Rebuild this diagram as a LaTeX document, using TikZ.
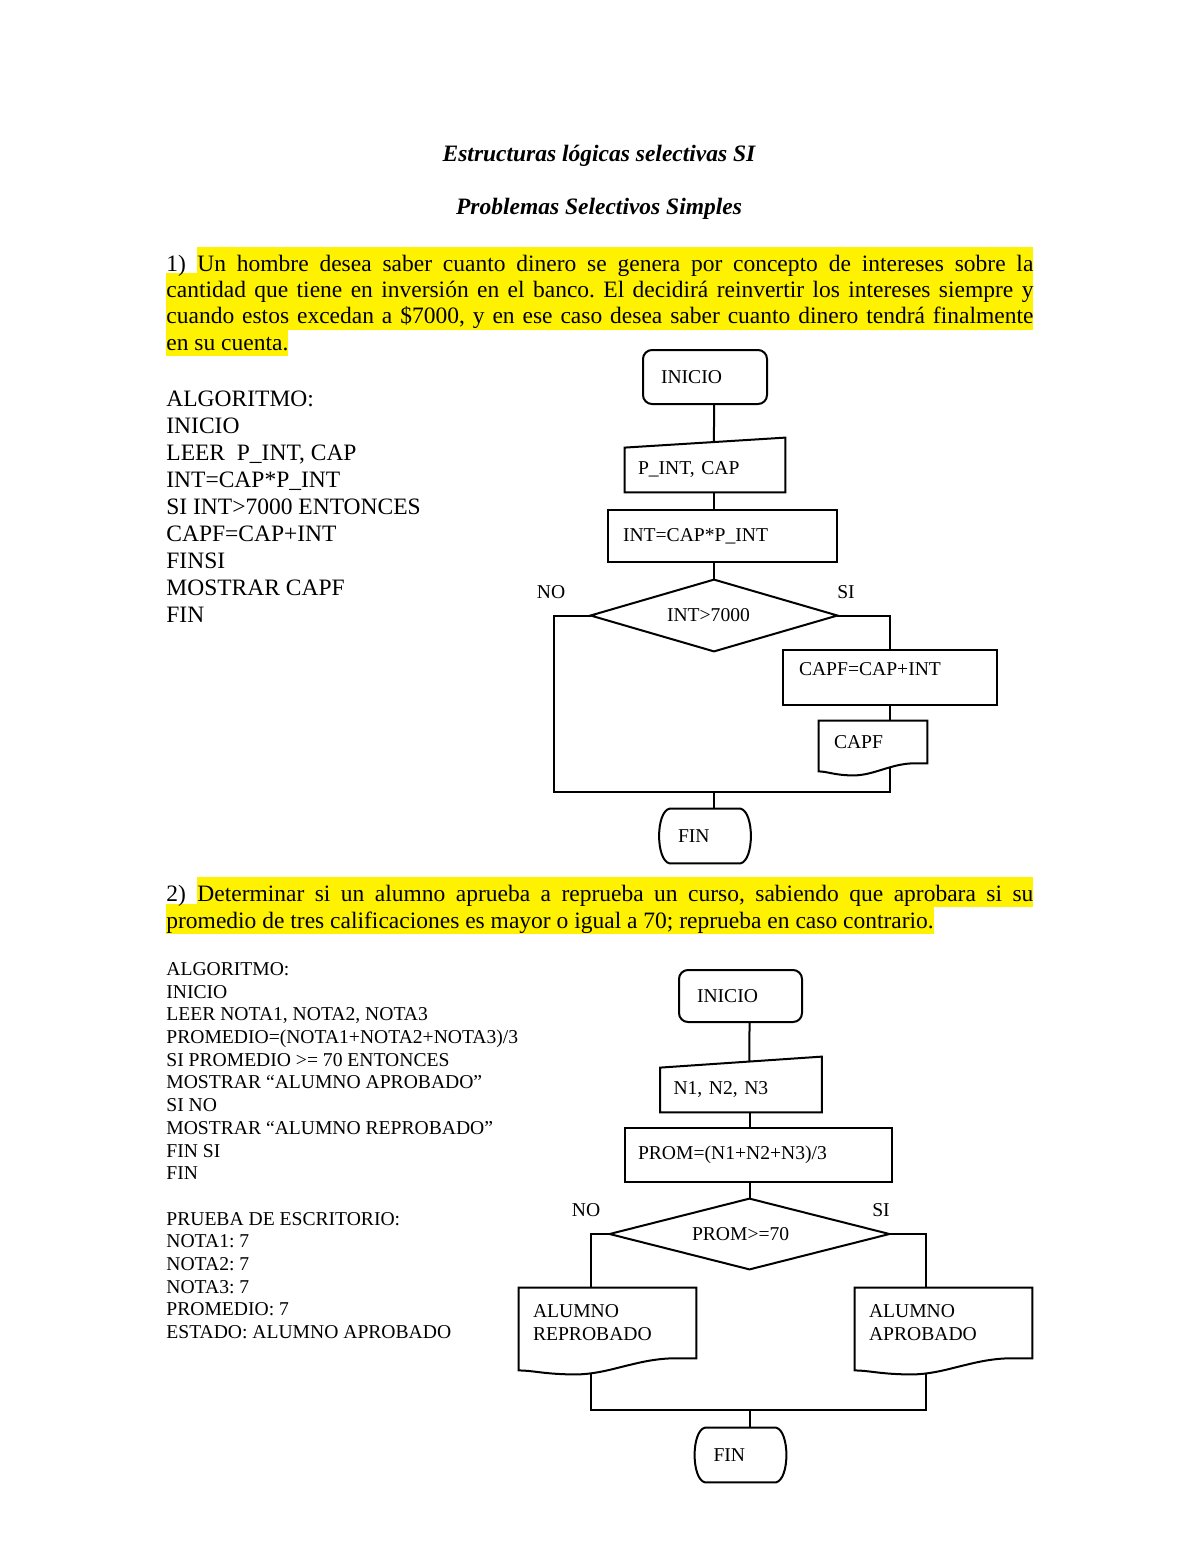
\documentclass[tikz,border=0pt]{standalone}
\usepackage{fontspec}
\setmainfont{Liberation Serif}
\frenchspacing
\usetikzlibrary{calc}
\newcommand\docoutline[3]{%
  \draw[fcline] (#1.north west) -- (#1.north east) -- (#1.south east)
    -- ($(#1.south west)!0.85!(#1.south east)$)
    .. controls ($(#1.south west)!0.65!(#1.south east)+(0,0.1*#2)$) and ($(#1.south west)!0.5!(#1.south east)+(0,#2)$)
    .. ($(#1.south west)!0.32!(#1.south east)+(0,#2)$)
    .. controls ($(#1.south west)!0.15!(#1.south east)+(0,#2)$) and ($(#1.south west)!0.08!(#1.south east)+(0,#3)$)
    .. ($(#1.south west)+(0,#3)$) -- cycle;}
\newcommand\termoutline[1]{%
  \draw[fcline] ($(#1.north west)+(10,0)$) -- ($(#1.north east)+(-10,0)$)
    .. controls ($(#1.north east)+(4,3)$) and ($(#1.south east)+(4,-3)$) .. ($(#1.south east)+(-10,0)$)
    -- ($(#1.south west)+(10,0)$)
    .. controls ($(#1.south west)+(-4,-3)$) and ($(#1.north west)+(-4,3)$) .. cycle;}
\begin{document}
\begin{tikzpicture}[x=0.5pt,y=-0.5pt,
  fcline/.style={line width=1pt},
  fcfont/.style={font=\fontsize{9.8}{11.5}\selectfont},
  fbox/.style={draw, fcline, fcfont, rectangle, inner ysep=0pt, align=left},
  fplain/.style={fcfont, rectangle, inner ysep=0pt, align=left},
  lbl/.style={fcfont, inner sep=0pt},
  body/.style={font=\fontsize{11.75}{13.5}\selectfont, inner sep=0pt},
  hlt/.style={body, fill=yellow, text height=12pt, text depth=3pt, anchor=base west},
  title/.style={font=\fontsize{11.75}{13.5}\selectfont\bfseries\itshape, inner sep=0pt, anchor=base}
]
\fill[white] (0,0) rectangle (1200,1553);
\useasboundingbox (0,0) rectangle (1200,1553);

% ---------- titles ----------
\node[title] (t1) at (599,161) {Estructuras lógicas selectivas SI};
\node[title] (t2) at (599,214) {Problemas Selectivos Simples};

% ---------- problem 1 text (bottom line first) ----------
\node[hlt] (p1d) at (166,350.2) {en su cuenta.};
\node[hlt] (p1c) at (166,323.8) {\makebox[433.5pt][s]{cuando estos excedan a \$7000, y en ese caso desea saber cuanto dinero tendrá finalmente}};
\node[hlt] (p1b) at (166,297.4) {\makebox[433.5pt][s]{cantidad que tiene en inversión en el banco. El decidirá reinvertir los intereses siempre y}};
\node[hlt] (p1a) at (197,271) {\makebox[418pt][s]{Un hombre desea saber cuanto dinero se genera por concepto de intereses sobre la}};
\node[body, anchor=base west] (p1n) at (166,271) {1)};

\node[body, anchor=north west, align=left] (alg1) at (166,386) {\rule{0pt}{10pt}ALGORITMO:\\INICIO\\LEER\ \ P\_INT, CAP\\INT=CAP*P\_INT\\SI INT>7000 ENTONCES\\CAPF=CAP+INT\\FINSI\\MOSTRAR CAPF\\FIN};

% ---------- flowchart 1 ----------
\node[fbox, rounded corners=4.5pt, minimum width=62pt, minimum height=27pt, inner xsep=9pt, text width=44pt] (ini1) at (705,377) {INICIO};
\node[fplain, minimum width=80pt, minimum height=22pt, inner xsep=6.5pt, text width=67pt] (in1) at (705,470) {P\_INT, CAP};
\node[fbox, minimum width=114.5pt, minimum height=26pt, inner xsep=7.5pt, text width=99.5pt] (box1) at (722.5,536) {INT=CAP*P\_INT};
\node[fplain, minimum width=123pt, minimum height=35.5pt, inner xsep=38pt, text width=47pt] (dia1) at (714,615.5) {INT>7000};
\node[fbox, minimum width=107pt, minimum height=27.5pt, inner xsep=8pt, text width=91pt, text depth=8pt] (box2) at (890,677.5) {CAPF=CAP+INT};
\node[fplain, minimum width=54pt, minimum height=21pt, inner xsep=7.5pt, text width=39pt] (doc1) at (873,742) {CAPF};
\node[fplain, minimum width=45pt, minimum height=27pt, inner xsep=9pt, text width=27pt] (fin1) at (705,836) {FIN};
\node[lbl] (no1) at (551,592) {NO};
\node[lbl] (si1) at (846,592) {SI};

\coordinate (in1tl) at (in1.north west);
\coordinate (in1tr) at ($(in1.north east)+(0,-10)$);
\coordinate (dia1n) at (dia1.north);
\coordinate (dia1s) at (dia1.south);
\coordinate (in1top) at (intersection of in1tl--in1tr and dia1n--dia1s);
\coordinate (l1) at (554,792);
\coordinate (r1) at (l1 -| box2.south);

\draw[fcline] (in1.south west) -- (in1.south east) -- (in1tr) -- (in1tl) -- cycle;
\draw[fcline] (dia1.north) -- (dia1.east) -- (dia1.south) -- (dia1.west) -- cycle;
\docoutline{doc1}{12}{8}
\termoutline{fin1}

\draw[fcline] (ini1.south -| dia1.north) -- (in1top);
\draw[fcline] (in1.south -| dia1.north) -- (box1.north -| dia1.north);
\draw[fcline] (box1.south -| dia1.north) -- (dia1.north);
\draw[fcline] (dia1.east) -| (box2.north);
\draw[fcline] (box2.south) -- (doc1.north -| box2.south);
\draw[fcline] (dia1.west) -| (l1) -- (r1) -- ($(doc1.south -| r1)+(0,3.6)$);
\draw[fcline] (l1 -| dia1.south) -- (fin1.north -| dia1.south);

% ---------- problem 2 text ----------
\node[hlt] (p2b) at (166,928) {promedio de tres calificaciones es mayor o igual a 70; reprueba en caso contrario.};
\node[hlt] (p2a) at (197,901) {\makebox[418pt][s]{Determinar si un alumno aprueba a reprueba un curso, sabiendo que aprobara si su}};
\node[body, anchor=base west] (p2n) at (166,901) {2)};

\node[anchor=north west, align=left, inner sep=0pt, font=\fontsize{9.8}{11.35}\selectfont] (alg2) at (166,959) {\rule{0pt}{8pt}ALGORITMO:\\INICIO\\LEER NOTA1, NOTA2, NOTA3\\PROMEDIO=(NOTA1+NOTA2+NOTA3)/3\\SI PROMEDIO >= 70 ENTONCES\\MOSTRAR “ALUMNO APROBADO”\\SI NO\\MOSTRAR “ALUMNO REPROBADO”\\FIN SI\\FIN\\[11.35pt]PRUEBA DE ESCRITORIO:\\NOTA1: 7\\NOTA2: 7\\NOTA3: 7\\PROMEDIO: 7\\ESTADO: ALUMNO APROBADO};

% ---------- flowchart 2 ----------
\node[fbox, rounded corners=4.5pt, minimum width=61.5pt, minimum height=26pt, inner xsep=9pt, text width=43.5pt] (ini2) at (740.5,996) {INICIO};
\node[fplain, minimum width=80.5pt, minimum height=22pt, inner xsep=6.5pt, text width=67.5pt] (in2) at (741,1090) {N1, N2, N3};
\node[fbox, minimum width=133.5pt, minimum height=27pt, inner xsep=6.5pt, text width=120.5pt] (box3) at (758.5,1155) {PROM=(N1+N2+N3)/3};
\node[fplain, minimum width=139.5pt, minimum height=35pt, inner xsep=41pt, text width=57.5pt] (dia2) at (749.5,1234) {PROM>=70};
\node[fplain, minimum width=88.5pt, minimum height=35pt, inner xsep=7pt, text width=74.5pt] (doc3) at (607.5,1323) {ALUMNO\\REPROBADO};
\node[fplain, minimum width=88.5pt, minimum height=35pt, inner xsep=7pt, text width=74.5pt] (doc4) at (943.5,1323) {ALUMNO\\APROBADO};
\node[fplain, minimum width=45pt, minimum height=27pt, inner xsep=9pt, text width=27pt] (fin2) at (740.5,1455) {FIN};
\node[lbl] (no2) at (586,1210) {NO};
\node[lbl] (si2) at (881,1210) {SI};

\coordinate (in2tl) at (in2.north west);
\coordinate (in2tr) at ($(in2.north east)+(0,-11)$);
\coordinate (dia2n) at (dia2.north);
\coordinate (dia2s) at (dia2.south);
\coordinate (in2top) at (intersection of in2tl--in2tr and dia2n--dia2s);
\coordinate (lx2) at (591,1410);
\coordinate (rx2) at (926,1410);

\draw[fcline] (in2.south west) -- (in2.south east) -- (in2tr) -- (in2tl) -- cycle;
\draw[fcline] (dia2.north) -- (dia2.east) -- (dia2.south) -- (dia2.west) -- cycle;
\docoutline{doc3}{16}{12}
\docoutline{doc4}{16}{12}
\termoutline{fin2}

\draw[fcline] (ini2.south -| dia2.north) -- (in2top);
\draw[fcline] (in2.south -| dia2.north) -- (box3.north -| dia2.north);
\draw[fcline] (box3.south -| dia2.north) -- (dia2.north);
\draw[fcline] (dia2.west) -| (doc3.north -| lx2);
\draw[fcline] (dia2.east) -| (doc4.north -| rx2);
\draw[fcline] ($(doc3.south -| lx2)+(0,15)$) -- (lx2) -- (rx2) -- ($(doc4.south -| rx2)+(0,15)$);
\draw[fcline] (lx2 -| dia2.north) -- (fin2.north -| dia2.north);
\end{tikzpicture}
\end{document}
